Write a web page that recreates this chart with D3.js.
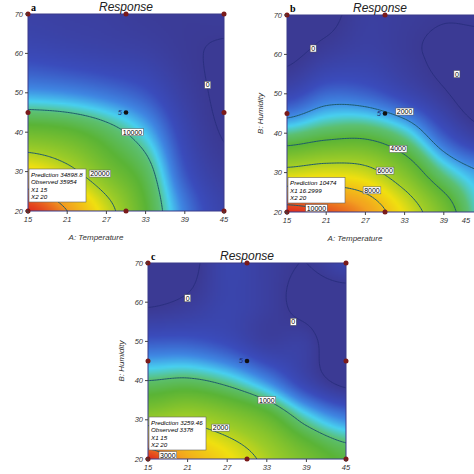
<!DOCTYPE html>
<html><head><meta charset="utf-8">
<script src="https://cdn.jsdelivr.net/npm/d3@7/dist/d3.min.js"></script>
<style>body{margin:0;background:#fff}svg{display:block}</style></head>
<body><svg id="c" width="474" height="474"></svg>
<script>
const xTicks=[15,21,27,33,39,45];
const yTicks=[20,30,40,50,60,70];
// response grids: rows = humidity 20..70, cols = temperature 15..45
const gridA=[[35000,30000,22000,13500,6000,2000],[25000,21500,16000,11500,4000,800],[15000,14000,11500,8000,2500,-200],[7000,6500,5500,4000,1200,-500],[3000,2500,2000,1500,400,-300],[1500,1200,1000,500,300,500]];
const gridB=[[10500,10000,9000,7000,4800,2500],[6500,6800,6500,5000,3000,2000],[3000,3500,3600,2800,1200,200],[800,1500,1400,800,100,-600],[-200,300,500,200,-200,-300],[-300,-200,300,200,50,100]];
const gridC=[[3300,2700,2300,1900,1500,1200],[1800,1900,1700,1400,900,600],[1000,1050,900,600,200,-100],[400,400,300,100,100,-300],[-50,50,200,100,-100,-200],[-300,-100,200,100,0,200]];
const levelsA=[0,10000,20000,30000], levelsB=[0,2000,4000,6000,8000,10000], levelsC=[0,1000,2000,3000];
const labelsA=[[42.5,52,"0"],[31,40,"10000"],[26,29.5,"20000"]];
const labelsB=[[19,61.5,"0"],[41,55,"0"],[33,45.5,"2000"],[32,36,"4000"],[30,30.5,"6000"],[28,25.5,"8000"],[19.5,21,"10000"]];
const labelsC=[[21,61,"0"],[37,55,"0"],[33,35,"1000"],[26,28,"2000"],[18,21,"3000"]];
const boxA=["Prediction  34898.8","Observed  35954","X1  15","X2  20"];
const boxB=["Prediction  10474","X1  16.2999","X2  20"];
const boxC=["Prediction  3259.46","Observed  3378","X1  15","X2  20"];
const designPts=[[15,70],[30,70],[45,70],[15,45],[45,45],[15,20],[30,20],[45,20]];
const centerPt=[30,45];

const svg=d3.select("#c");
const cscale=d3.scaleLinear().domain([0,0.1,0.18,0.24,0.3,0.38,0.55,0.68,0.85,1])
 .range(["#3b3a94","#3a4cbc","#3f86e2","#48d0f0","#5cc070","#5ab436","#9ccc28","#f0e010","#f3a020","#e0301e"]).clamp(true);

function cr(p0,p1,p2,p3,t){return 0.5*((2*p1)+(-p0+p2)*t+(2*p0-5*p1+4*p2-p3)*t*t+(-p0+3*p1-3*p2+p3)*t*t*t);}
function sample(g,u,v){
 const R=g.length,C=g[0].length;
 const get=(r,c)=>g[Math.max(0,Math.min(R-1,r))][Math.max(0,Math.min(C-1,c))];
 const c0=Math.min(C-2,Math.floor(u)),r0=Math.min(R-2,Math.floor(v));
 const tu=u-c0,tv=v-r0;const rows=[];
 for(let k=-1;k<=2;k++){rows.push(cr(get(r0+k,c0-1),get(r0+k,c0),get(r0+k,c0+1),get(r0+k,c0+2),tu));}
 return cr(rows[0],rows[1],rows[2],rows[3],tv);
}
function panel(o){
 const x=d3.scaleLinear().domain([15,45]).range([o.x0,o.x0+o.w]);
 const y=d3.scaleLinear().domain([20,70]).range([o.y0+o.h,o.y0]);
 const g=svg.append("g");
 const N=120;const vals=new Array(N*N);let mx=-1e9;
 for(let j=0;j<N;j++)for(let i=0;i<N;i++){const v=sample(o.grid,i/(N-1)*5,(N-1-j)/(N-1)*5);vals[j*N+i]=v;if(v>mx)mx=v;}
 const cv=document.createElement("canvas");cv.width=N;cv.height=N;const ctx=cv.getContext("2d");
 const img=ctx.createImageData(N,N);
 for(let k=0;k<N*N;k++){const c=d3.rgb(cscale(Math.max(0,vals[k])/mx));img.data[4*k]=c.r;img.data[4*k+1]=c.g;img.data[4*k+2]=c.b;img.data[4*k+3]=255;}
 ctx.putImageData(img,0,0);
 const id="clip"+o.tag;
 svg.append("clipPath").attr("id",id).append("rect").attr("x",o.x0).attr("y",o.y0).attr("width",o.w).attr("height",o.h);
 g.append("image").attr("href",cv.toDataURL()).attr("x",o.x0).attr("y",o.y0).attr("width",o.w).attr("height",o.h).attr("preserveAspectRatio","none").attr("clip-path",`url(#${id})`);
 const cont=d3.contours().size([N,N]).thresholds(o.levels)(vals);
 const tr=d3.geoTransform({point:function(px,py){this.stream.point(o.x0+(px-0.5)/(N-1)*o.w,o.y0+(py-0.5)/(N-1)*o.h);}});
 g.append("g").attr("clip-path",`url(#${id})`).selectAll("path").data(cont).join("path")
  .attr("d",d3.geoPath(tr)).attr("fill","none").attr("stroke",d=>d.value===0?"#2a2f80":"#1d5a6c").attr("stroke-width",1);
 g.append("rect").attr("x",o.x0).attr("y",o.y0).attr("width",o.w).attr("height",o.h).attr("fill","none").attr("stroke","#3a3a8a").attr("stroke-width",1);
 const bx=o.x0+1,bh=o.box.length*7.5+3,by=o.y0+o.h-bh-9;
 g.append("rect").attr("x",bx).attr("y",by).attr("width",57).attr("height",bh).attr("fill","#fff").attr("stroke","#666").attr("stroke-width",0.6);
 o.box.forEach((t,i)=>g.append("text").attr("x",bx+2).attr("y",by+7.5+i*7.5).attr("font-size",6.2).attr("font-style","italic").attr("font-family","Liberation Sans").text(t));
 o.labels.forEach(([lx,ly,t])=>{const tx=g.append("text").attr("x",x(lx)).attr("y",y(ly)+2.5).attr("text-anchor","middle").attr("font-size",7).attr("font-family","Liberation Sans").text(t);
  const b=tx.node().getBBox();g.insert("rect",()=>tx.node()).attr("x",b.x-1).attr("y",b.y).attr("width",b.width+2).attr("height",b.height).attr("fill","#fff").attr("stroke","#555").attr("stroke-width",0.5);});
 g.selectAll("circle.d").data(designPts).join("circle").attr("cx",d=>x(d[0])).attr("cy",d=>y(d[1])).attr("r",2.5).attr("fill","#7a1a1a");
 g.append("circle").attr("cx",x(centerPt[0])).attr("cy",y(centerPt[1])).attr("r",2.3).attr("fill","#111");
 g.append("text").attr("x",x(centerPt[0])-4).attr("y",y(centerPt[1])+2).attr("text-anchor","end").attr("font-size",7).attr("fill","#1a2a70").attr("font-style","italic").attr("font-family","Liberation Sans").text("5");
 xTicks.forEach(t=>{g.append("line").attr("x1",x(t)).attr("x2",x(t)).attr("y1",o.y0+o.h).attr("y2",o.y0+o.h+3).attr("stroke","#444");
  g.append("text").attr("x",Math.min(x(t),466)).attr("y",o.y0+o.h+11).attr("text-anchor","middle").attr("font-size",7.5).attr("font-style","italic").attr("font-family","Liberation Sans").attr("fill","#333").text(t);});
 yTicks.forEach(t=>{g.append("line").attr("x1",o.x0-3).attr("x2",o.x0).attr("y1",y(t)).attr("y2",y(t)).attr("stroke","#444");
  g.append("text").attr("x",o.x0-5).attr("y",y(t)+2.5).attr("text-anchor","end").attr("font-size",7.5).attr("font-style","italic").attr("font-family","Liberation Sans").attr("fill","#333").text(t);});
 g.append("text").attr("x",o.x0+o.w/2+(o.titleDx||0)).attr("y",o.y0-3).attr("text-anchor","middle").attr("font-size",12).attr("font-style","italic").attr("font-family","Liberation Sans").attr("fill","#222").text("Response");
 g.append("text").attr("x",o.x0+3).attr("y",o.y0-3).attr("font-size",10).attr("font-weight","bold").attr("font-family","Liberation Serif").text(o.tag);
 if(o.xTitle)g.append("text").attr("x",o.x0+o.w/2-o.xTitleShift).attr("y",o.y0+o.h+29).attr("text-anchor","middle").attr("font-size",8).attr("font-style","italic").attr("font-family","Liberation Sans").attr("fill","#333").text("A: Temperature");
 if(o.yTitle)g.append("text").attr("transform",`translate(${o.x0-24},${o.y0+o.h/2}) rotate(-90)`).attr("text-anchor","middle").attr("font-size",8).attr("font-style","italic").attr("font-family","Liberation Sans").attr("fill","#333").text("B: Humidity");
}
panel({tag:"a",x0:28,y0:14,w:196,h:197,grid:gridA,levels:levelsA,labels:labelsA,box:boxA,xTitle:true,xTitleShift:30});
panel({tag:"b",x0:287,y0:15,w:196,h:197,grid:gridB,levels:levelsB,labels:labelsB,box:boxB,xTitle:true,xTitleShift:30,yTitle:true,titleDx:-5});
panel({tag:"c",x0:148,y0:263,w:198,h:196,grid:gridC,levels:levelsC,labels:labelsC,box:boxC,yTitle:true});
</script></body></html>
